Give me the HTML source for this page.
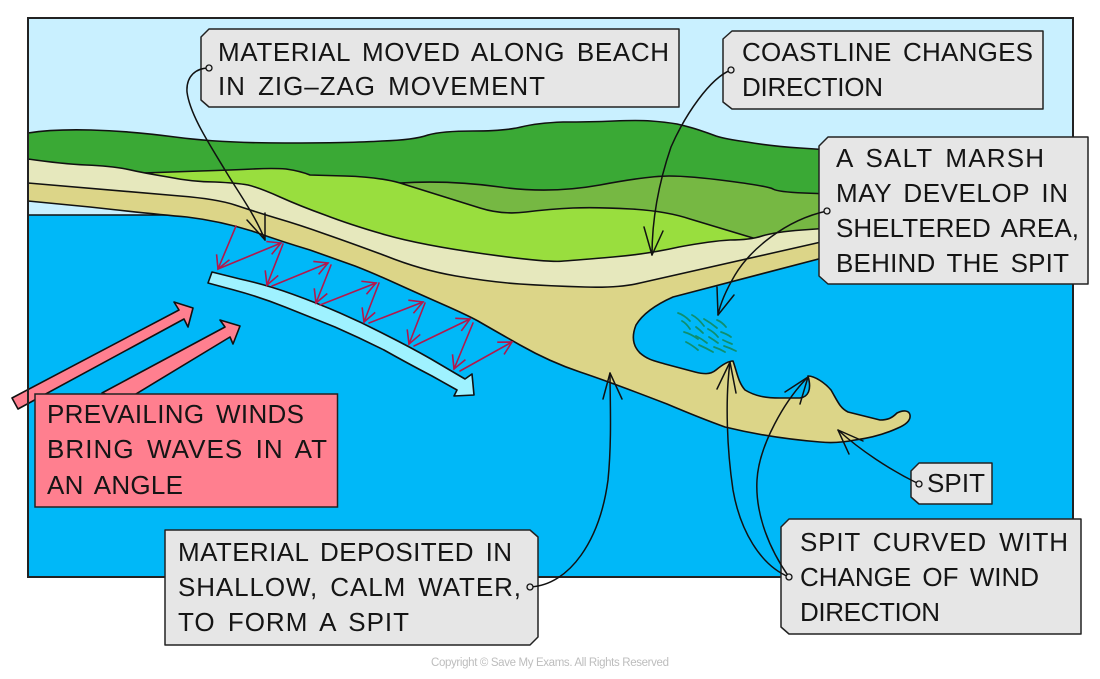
<!DOCTYPE html>
<html><head><meta charset="utf-8"><style>
html,body{margin:0;padding:0;background:#fff;width:1100px;height:679px;overflow:hidden}
svg{display:block}
text{font-family:"Liberation Sans",sans-serif;font-size:26px;fill:#151515;word-spacing:4px}
.l{stroke:#111;stroke-width:1.6;stroke-linejoin:round;stroke-linecap:round}
.c{fill:none;stroke:#111;stroke-width:1.5;stroke-linecap:round;stroke-linejoin:round}
.r{stroke:#b2184c;stroke-width:1.6;fill:none;marker-end:url(#m);stroke-linecap:round}
.b{fill:#e6e6e6;stroke:#222;stroke-width:1.5;stroke-linejoin:round}
.d{fill:#e6e6e6;stroke:#111;stroke-width:1.3}
</style></head><body>
<svg width="1100" height="679" viewBox="0 0 1100 679" xmlns="http://www.w3.org/2000/svg">
<defs>
<marker id="m" markerUnits="userSpaceOnUse" markerWidth="24" markerHeight="24" refX="16" refY="8" orient="auto" viewBox="0 0 24 16">
<path d="M3,1 L16,8 L3,15" fill="none" stroke="#b2184c" stroke-width="1.6"/>
</marker>
</defs>
<rect x="28" y="18" width="1045" height="559" fill="#c9f0ff"/>
<rect x="28" y="215" width="1045" height="362" fill="#00b8f8"/>
<path d="M28,215 H170" stroke="#111" stroke-width="1.5"/>

<!-- dark green -->
<path class="l" fill="#3aa935" d="M28,133 Q53,129 91,130 Q130,131 175,137 Q220,143 285,143 Q351,143 382,141 Q414,140 428,135 Q442,131 473,131 Q505,131 521,127 Q537,123 563,122 Q590,122 614,121 Q638,120 651,121 Q665,122 677,124 Q690,127 699,130 Q708,133 716,136 Q725,139 747,142 Q770,146 800,148 L830,150 L830,240 L620,270 L421,255 L300,215 L28,170 Z"/>
<!-- medium green -->
<path class="l" fill="#76b843" d="M400,183 Q449,180 500,187 Q550,194 600,185 Q648,176 669,176 Q690,176 728,181 Q767,186 773,189 Q778,192 804,193 L830,194 L830,240 L760,245 L650,240 L400,200 Z"/>
<!-- light green -->
<path class="l" fill="#99de3e" d="M143,173 L200,171 Q233,170 253,169 Q273,168 286,169 Q300,171 310,175 L345,176 Q379,177 400,183 L480,208 Q502,215 526,212 Q550,209 573,208 Q596,207 631,209 Q666,211 690,219 L753,238 L753,250 L550,270 L421,255 L300,215 L143,178 Z"/>
<!-- pale sand -->
<path class="l" fill="#e6e8bd" d="M28,159 Q63,164 86,165 Q110,166 126,169 Q143,173 168,177 Q193,182 215,182 Q237,183 248,185 Q260,188 280,197 Q300,206 325,215 Q351,225 386,235 Q421,245 485,254 Q550,263 564,261 Q578,260 613,257 Q648,254 679,247 Q711,241 730,240 Q750,240 762,236 Q775,232 802,230 L830,228 L830,250 L620,295 L450,285 L350,255 L280,230 L28,190 Z"/>
<!-- sand -->
<path class="l" fill="#dcd588" d="M28,183 L180,196 Q217,199 235,205 Q253,211 276,218 Q300,225 325,234 Q351,243 386,256 Q421,270 456,276 Q491,282 520,284 Q550,286 585,287 Q620,288 640,283 L830,240 L830,256 L673,297 C655,305 642,315 636,325 C632,335 632,345 640,353 C648,360 655,361 665,364 L695,372 C703,374 710,375 716,370 C722,365 728,361 733,361 C737,372 738,382 745,390 C755,396 765,398 780,398 L800,398 C808,397 812,390 808,376 C815,376 825,383 831,390 C838,402 840,408 848,412 L880,420 C888,420 892,418 897,413 C903,410 909,410 910,415 C911,421 905,425 898,428 C885,434 870,438 855,440 C840,443 830,443 820,442 Q770,438 725,427 Q700,418 667,404 Q610,382 580,372 Q550,362 520,345 Q490,328 478,321 Q467,315 442,304 Q417,293 395,283 Q373,273 355,266 Q338,260 310,250 Q283,242 252,231 Q220,221 187,217 Q153,214 90,207 L28,201 Z"/>

<!-- pink arrows -->
<path class="l" fill="#ff7f8f" d="M102,393 L225,327 L220,320 L240,326 L233,344 L230,337 L126,400 Z"/>
<path class="l" fill="#ff7f8f" d="M12,398 L179,310 L174,302 L193,308 L188,327 L184,319 L18,409 Z"/>

<!-- cyan arrow -->
<path class="l" fill="#9ff2ff" d="M212,272 L240,279 Q267,285 292,294 Q317,303 340,313 Q363,323 386,335 Q410,347 431,359 L465,379 L472,374 L474,395 L454,396 L457,390 L432,376 Q407,363 384,350 Q360,338 335,327 Q310,317 285,307 Q260,297 234,290 L208,283 Z"/>

<!-- zig zag -->
<g>
<path class="r" d="M236,226 L218,269"/>
<path class="r" d="M218,269 L281,243"/>
<path class="r" d="M283,244 L267,285"/>
<path class="r" d="M272,286 L328,263"/>
<path class="r" d="M331,265 L316,303"/>
<path class="r" d="M320,305 L376,283"/>
<path class="r" d="M379,283 L364,322"/>
<path class="r" d="M369,323 L423,302"/>
<path class="r" d="M425,303 L409,344"/>
<path class="r" d="M414,346 L470,319"/>
<path class="r" d="M473,323 L454,369"/>
<path class="r" d="M460,371 L512,342"/>
</g>

<!-- marsh -->
<g fill="none" stroke="#0f8f6f" stroke-width="1.8" stroke-linecap="round">
<path d="M678,313 Q684,315 690,321"/>
<path d="M692,315 Q698,318 704,326"/>
<path d="M704,319 Q711,323 717,328"/>
<path d="M717,320 Q722,322 726,327"/>
<path d="M682,321 Q686,323 690,329"/>
<path d="M696,327 Q700,330 703,333"/>
<path d="M708,329 Q714,332 718,337"/>
<path d="M721,332 Q727,334 731,337"/>
<path d="M684,332 Q691,334 698,339"/>
<path d="M696,336 Q702,339 707,343"/>
<path d="M709,337 Q714,340 718,343"/>
<path d="M723,340 Q727,342 732,344"/>
<path d="M686,342 Q692,345 698,350"/>
<path d="M699,345 Q706,348 713,352"/>
<path d="M714,347 Q720,349 725,352"/>
<path d="M724,346 Q730,348 736,351"/>
</g>

<!-- frame -->
<rect x="28" y="18" width="1045" height="559" fill="none" stroke="#222" stroke-width="2"/>

<!-- pink box -->
<rect x="35" y="394" width="302.500" height="113" fill="#ff7f8f" stroke="#222" stroke-width="1.500"/>
<text x="47" y="423" textLength="257">PREVAILING WINDS</text>
<text x="47" y="458" textLength="280">BRING WAVES IN AT</text>
<text x="47" y="494" textLength="136">AN ANGLE</text>

<!-- box 1 -->
<path class="b" d="M209,29 H679 V107 H209 L201,100 V37 Z"/>
<text x="218" y="61" textLength="451">MATERIAL MOVED ALONG BEACH</text>
<text x="218" y="95" textLength="327">IN ZIG–ZAG MOVEMENT</text>

<!-- box 2 -->
<path class="b" d="M732,31 H1043 V109 H732 L723,102 V39 Z"/>
<text x="742" y="61" textLength="291">COASTLINE CHANGES</text>
<text x="742" y="96" textLength="141">DIRECTION</text>

<!-- box 3 -->
<path class="b" d="M828,137 H1088 V284 H828 L819,276 V146 Z"/>
<text x="836" y="167" textLength="208">A SALT MARSH</text>
<text x="836" y="202" textLength="232">MAY DEVELOP IN</text>
<text x="836" y="237" textLength="243">SHELTERED AREA,</text>
<text x="836" y="272" textLength="233">BEHIND THE SPIT</text>

<!-- box deposited -->
<path class="b" d="M165,530 H530 L538,537 V637 L530,645 H165 Z"/>
<text x="178" y="561" textLength="334">MATERIAL DEPOSITED IN</text>
<text x="178" y="596" textLength="343">SHALLOW, CALM WATER,</text>
<text x="178" y="631" textLength="231">TO FORM A SPIT</text>

<!-- spit box -->
<path class="b" d="M919,463 H992 V504 H919 L911,497 V471 Z"/>
<text x="927" y="492" textLength="58">SPIT</text>

<!-- curved box -->
<path class="b" d="M789,519 H1081 V634 H789 L781,627 V527 Z"/>
<text x="800" y="551" textLength="268">SPIT CURVED WITH</text>
<text x="800" y="586" textLength="239">CHANGE OF WIND</text>
<text x="800" y="621" textLength="140">DIRECTION</text>

<!-- connectors -->
<path class="c" d="M209,68 C196,68 186,76 187,92 C190,115 210,145 225,170 C240,195 255,215 265,240"/>
<path class="c" d="M265,213 L265,240 L247,220"/>
<path class="c" d="M731,70 C710,78 685,115 671,147 C658,185 652,220 652,255"/>
<path class="c" d="M644,227 L652,255 L663,231"/>
<path class="c" d="M827,211 C785,220 750,250 735,275 C725,292 720,305 718,315"/>
<path class="c" d="M717,287 L718,315 L734,295"/>
<path class="c" d="M530,587 C570,585 600,540 608,480 C612,440 610,400 610,373"/>
<path class="c" d="M603,399 L610,373 L622,399"/>
<path class="c" d="M919,484 C890,470 860,450 838,430"/>
<path class="c" d="M863,441 L838,430 L849,454"/>
<path class="c" d="M789,577 C760,565 740,530 733,490 C727,450 725,400 730,362"/>
<path class="c" d="M717,389 L730,362 L736,393"/>
<path class="c" d="M789,577 C770,550 755,515 757,480 C759,445 785,400 808,377"/>
<path class="c" d="M785,392 L808,377 L800,404"/>
<circle class="d" cx="209" cy="68" r="3"/>
<circle class="d" cx="731" cy="70" r="3"/>
<circle class="d" cx="827" cy="211" r="3"/>
<circle class="d" cx="530" cy="587" r="3"/>
<circle class="d" cx="919" cy="484" r="3"/>
<circle class="d" cx="789" cy="577" r="3"/>

<text x="431" y="666" textLength="238" style="font-size:11.500px;fill:#bdbdbd;word-spacing:0">Copyright © Save My Exams. All Rights Reserved</text>
</svg>
</body></html>
